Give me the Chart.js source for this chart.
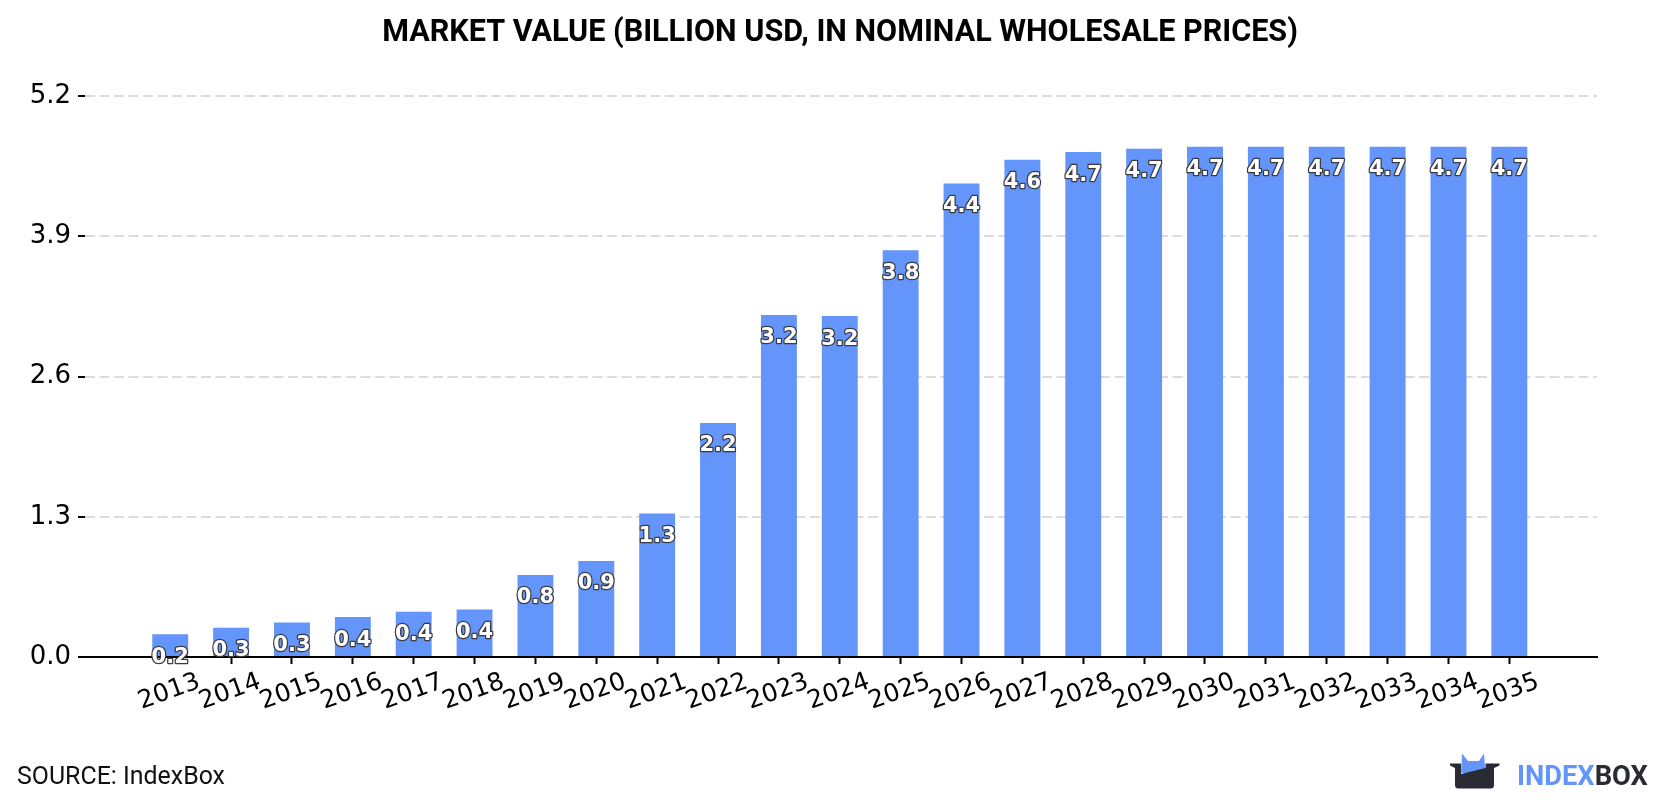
<!DOCTYPE html>
<html>
<head>
<meta charset="utf-8">
<script src="https://cdn.jsdelivr.net/npm/chart.js@4"></script>
<style>
  body { margin: 0; background: #fff; }
  #wrap { width: 1680px; height: 800px; }
</style>
</head>
<body>
<div id="wrap"><canvas id="marketChart" width="1680" height="800"></canvas></div>
<script>
const years = [2013, 2014, 2015, 2016, 2017, 2018, 2019, 2020, 2021, 2022, 2023, 2024,
               2025, 2026, 2027, 2028, 2029, 2030, 2031, 2032, 2033, 2034, 2035];
const values = [0.21, 0.27, 0.32, 0.37, 0.42, 0.44, 0.76, 0.89, 1.33, 2.17, 3.17, 3.16,
                3.77, 4.39, 4.61, 4.68, 4.71, 4.73, 4.73, 4.73, 4.73, 4.73, 4.73];
const yTicks = [0, 1.3, 2.6, 3.9, 5.2];

const titleText = 'MARKET VALUE (BILLION USD, IN NOMINAL WHOLESALE PRICES)';
const sourceText = 'SOURCE: IndexBox';

// fit a font size so the text spans the given width
function fitFont(ctx, text, weight, family, width) {
    ctx.font = weight + ' 40px ' + family;
    const w = ctx.measureText(text).width;
    return 40 * width / w;
}

const decorations = {
    id: 'decorations',
    afterDatasetsDraw(chart) {
        const ctx = chart.ctx;
        const meta = chart.getDatasetMeta(0);
        ctx.save();
        ctx.font = 'bold 21px "DejaVu Sans"';
        ctx.textAlign = 'center';
        ctx.textBaseline = 'middle';
        ctx.lineJoin = 'round';
        meta.data.forEach(function (bar, i) {
            const label = values[i].toFixed(1);
            ctx.lineWidth = 2.5;
            ctx.strokeStyle = '#3a3a3a';
            ctx.strokeText(label, bar.x, bar.y + 23);
            ctx.fillStyle = '#ffffff';
            ctx.fillText(label, bar.x, bar.y + 23);
        });
        ctx.restore();
    },
    afterDraw(chart) {
        const ctx = chart.ctx;
        const xs = chart.scales.x;

        // rotated year labels, centred under each tick
        ctx.save();
        ctx.font = '25px "DejaVu Sans"';
        ctx.fillStyle = '#000';
        ctx.textAlign = 'center';
        ctx.textBaseline = 'middle';
        years.forEach(function (yr) {
            const px = xs.getPixelForValue(yr);
            ctx.save();
            ctx.translate(px - 1, 692);
            ctx.rotate(-20 * Math.PI / 180);
            ctx.fillText(String(yr), 0, 0);
            ctx.restore();
        });
        ctx.restore();

        // title
        ctx.save();
        const tSize = fitFont(ctx, titleText, 'bold', 'Roboto', 916);
        ctx.font = 'bold ' + tSize + 'px Roboto';
        ctx.fillStyle = '#000';
        ctx.textAlign = 'center';
        ctx.textBaseline = 'alphabetic';
        ctx.fillText(titleText, 840, 30.5 + tSize * 0.711 / 2);
        ctx.restore();

        // source
        ctx.save();
        const sSize = fitFont(ctx, sourceText, 'normal', 'Roboto', 208);
        ctx.font = sSize + 'px Roboto';
        ctx.fillStyle = '#111';
        ctx.textAlign = 'left';
        ctx.textBaseline = 'alphabetic';
        ctx.fillText(sourceText, 17, 775 + sSize * 0.711 / 2);
        ctx.restore();

        // logo
        ctx.save();
        ctx.fillStyle = '#6495fa';
        ctx.beginPath();
        ctx.moveTo(1461, 773);
        ctx.lineTo(1462, 753.5);
        ctx.lineTo(1468, 761);
        ctx.lineTo(1479, 761);
        ctx.lineTo(1484, 753.5);
        ctx.lineTo(1485.5, 773);
        ctx.closePath();
        ctx.fill();
        ctx.fillStyle = '#2a2a35';
        ctx.beginPath();
        ctx.moveTo(1450, 763.5);
        ctx.lineTo(1461, 763.5);
        ctx.lineTo(1461, 774);
        ctx.lineTo(1485.5, 768);
        ctx.lineTo(1485.5, 763.5);
        ctx.lineTo(1499.5, 763.5);
        ctx.lineTo(1499.5, 765.5);
        ctx.lineTo(1494, 768);
        ctx.lineTo(1494, 785);
        ctx.quadraticCurveTo(1494, 788.5, 1490.5, 788.5);
        ctx.lineTo(1458.5, 788.5);
        ctx.quadraticCurveTo(1455, 788.5, 1455, 785);
        ctx.lineTo(1455, 768);
        ctx.lineTo(1450, 765.5);
        ctx.closePath();
        ctx.fill();

        const lSize = fitFont(ctx, 'INDEXBOX', 'bold', 'Roboto', 131);
        ctx.font = 'bold ' + lSize + 'px Roboto';
        ctx.textAlign = 'left';
        ctx.textBaseline = 'alphabetic';
        const base = 775 + lSize * 0.711 / 2;
        ctx.fillStyle = '#6495fa';
        ctx.fillText('INDEX', 1517, base);
        const wIndex = ctx.measureText('INDEX').width;
        ctx.fillStyle = '#2a2a35';
        ctx.fillText('BOX', 1517 + wIndex, base);
        ctx.restore();
    }
};

const ctx = document.getElementById('marketChart').getContext('2d');
new Chart(ctx, {
    type: 'bar',
    data: {
        datasets: [{
            data: years.map((yr, i) => ({ x: yr, y: values[i] })),
            backgroundColor: '#6495fa',
            categoryPercentage: 1,
            barPercentage: 0.59
        }]
    },
    options: {
        responsive: false,
        animation: false,
        layout: { padding: { top: 96, right: 83, bottom: 0, left: 0 } },
        plugins: {
            legend: { display: false },
            tooltip: { enabled: false }
        },
        scales: {
            x: {
                type: 'linear',
                min: 2011.6,
                max: 2036.44,
                offset: false,
                afterBuildTicks: (scale) => { scale.ticks = years.map(v => ({ value: v })); },
                afterFit: (scale) => { scale.height = 143; },
                ticks: { display: false },
                grid: {
                    offset: false,
                    drawOnChartArea: false,
                    tickLength: 7,
                    tickWidth: 2,
                    tickColor: '#000'
                },
                border: { display: true, color: '#000', width: 2 }
            },
            y: {
                min: 0,
                max: 5.2,
                afterBuildTicks: (scale) => { scale.ticks = yTicks.map(v => ({ value: v })); },
                afterFit: (scale) => { scale.width = 85; },
                ticks: {
                    color: '#000',
                    padding: 7,
                    font: { family: 'DejaVu Sans', size: 26 },
                    callback: (v) => Number(v).toFixed(1)
                },
                grid: {
                    color: '#dcdcdc',
                    lineWidth: 2,
                    tickLength: 7,
                    tickWidth: 2,
                    tickColor: '#000',
                    tickBorderDash: []
                },
                border: { display: false, dash: [10, 4.5] }
            }
        }
    },
    plugins: [decorations]
});
</script>
</body>
</html>
